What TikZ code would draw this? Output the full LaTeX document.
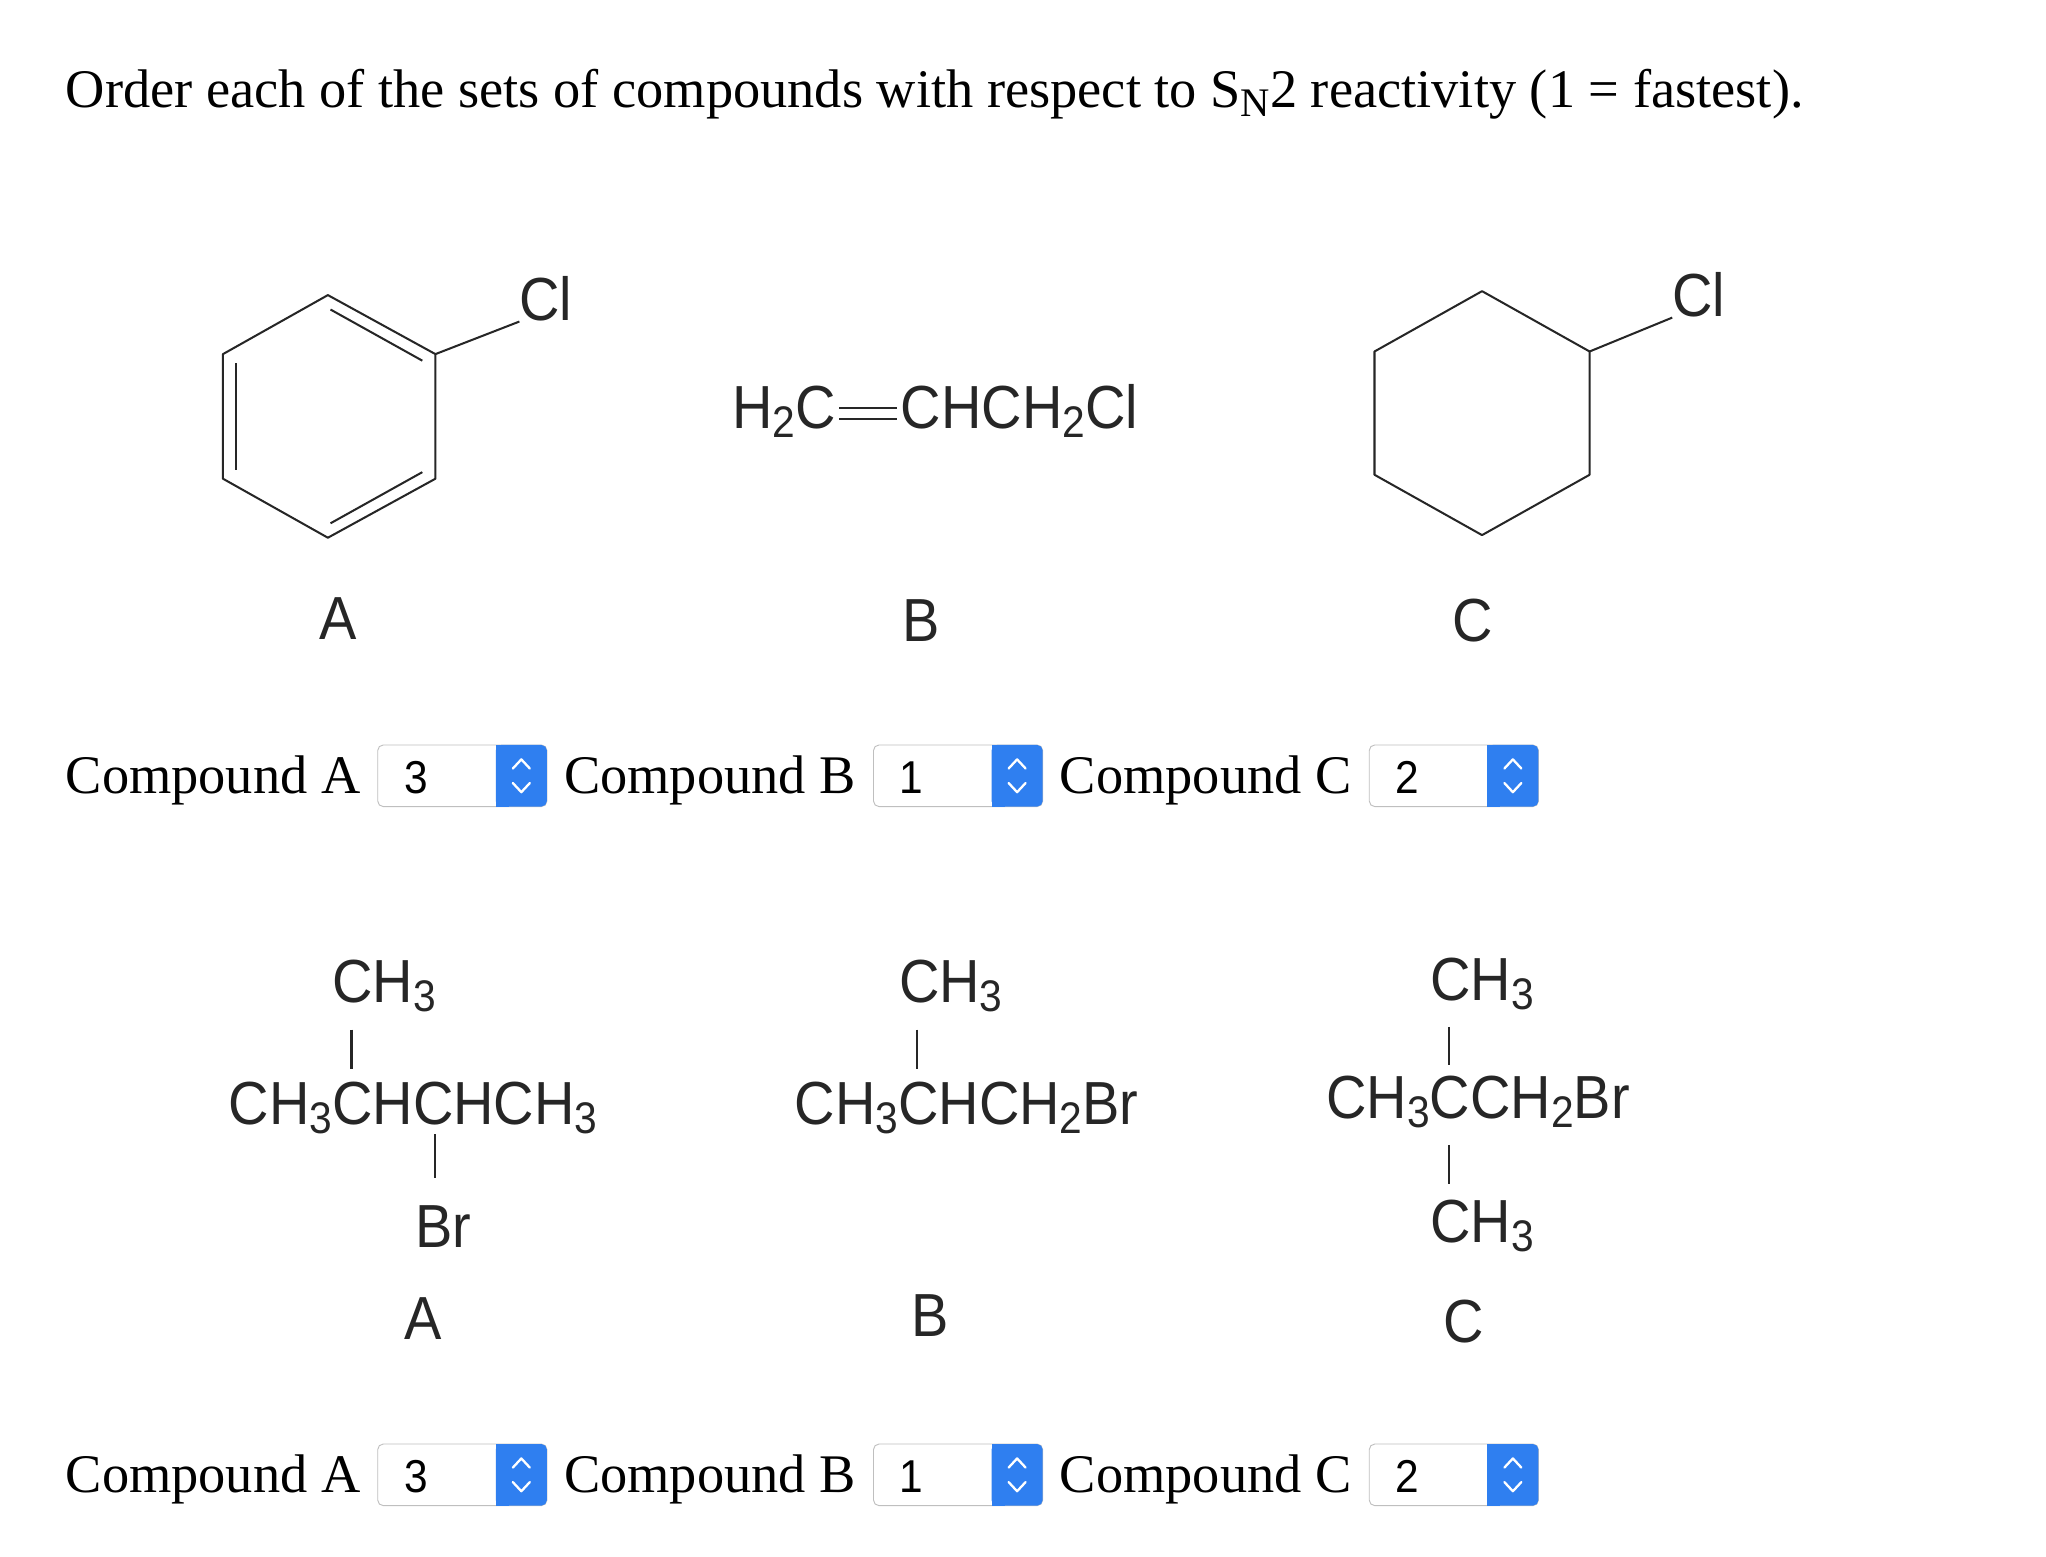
\documentclass[tikz,border=0pt]{standalone}
\usepackage{fontspec}
\setmainfont{Liberation Serif}
\newfontfamily\chem[FakeStretch=0.92]{Liberation Sans}
\definecolor{spin}{HTML}{2F7FF0}
\newcommand{\sbs}[1]{\raisebox{-0.28ex}{\fontsize{48}{50}\selectfont #1}}
\newcommand{\dbnd}{\kern0.06em\raisebox{0.25ex}{\rule{0.95em}{2.2pt}}\kern-0.95em\raisebox{0.58ex}{\rule{0.95em}{2.2pt}}\kern0.06em}
\begin{document}
\begin{tikzpicture}[x=0.05cm,y=-0.05cm,
  bond/.style={line width=2.2pt,black!85},
  ch/.style={font=\chem\fontsize{66}{70}\selectfont,inner sep=0pt,text=black!85},
  lab/.style={font=\chem\fontsize{66}{70}\selectfont,inner sep=0pt,text=black!85},
  tm/.style={font=\fontsize{59}{70}\selectfont,inner sep=0pt,anchor=base west},
  boxnum/.style={font=\chem\fontsize{50}{50}\selectfont,inner sep=0pt,anchor=base west}]
\useasboundingbox (0,0) rectangle (1560,1187);
\node[tm] (title) at (50,82) {Order each of the sets of compounds with respect to S\raisebox{-0.35ex}{\fontsize{44}{50}\selectfont N}2 reactivity (1 = fastest).};
% benzene
\coordinate (a1) at (250,225); \coordinate (a2) at (332,270); \coordinate (a3) at (332,365);
\coordinate (a4) at (250,410); \coordinate (a5) at (170,365); \coordinate (a6) at (170,270);
\draw[bond,line join=round] (a1)--(a2)--(a3)--(a4)--(a5)--(a6)--cycle;
\draw[bond] (180,277)--(180,358);
\draw[bond] (252,236)--(322,275);
\draw[bond] (252,399)--(322,360);
\node[ch,anchor=west] (clA) at (396,228) {Cl};
\draw[bond] (a2)--(clA.south west);
\node[ch] (mB) at (713,313) {H\sbs{2}C\dbnd CHCH\sbs{2}Cl};
% cyclohexane
\coordinate (c1) at (1130,222); \coordinate (c2) at (1212,268); \coordinate (c3) at (1212,362);
\coordinate (c4) at (1130,408); \coordinate (c5) at (1048,362); \coordinate (c6) at (1048,268);
\draw[bond,line join=round] (c1)--(c2)--(c3)--(c4)--(c5)--(c6)--cycle;
\node[ch,anchor=west] (clC) at (1275,225) {Cl};
\draw[bond] (c2)--(clC.south west);
\node[lab] (lA1) at (258,472) {A};
\node[lab] (lB1) at (702,473) {B};
\node[lab] (lC1) at (1123,473) {C};
% spinner rows
\foreach \r/\yy in {1/0,2/533}{
  \begin{scope}[yshift=-\yy*0.05cm]
  \node[tm] (ca\r) at (50,605) {Compound A};
  \node[tm] (cb\r) at (430,605) {Compound B};
  \node[tm] (cc\r) at (808,605) {Compound C};
  \foreach \bx/\n/\k in {288/3/a,666/1/b,1044/2/c}{
    \draw[black!25,line width=1pt,rounded corners=6pt,fill=white] (\bx,568) rectangle (\bx+129,615);
    \fill[spin,rounded corners=6pt] (\bx+90,568) rectangle (\bx+129,615);
    \fill[spin] (\bx+90,568) rectangle (\bx+100,615);
    \draw[white,line width=2.5pt,line cap=round,line join=round] (\bx+103,586)--(\bx+109.5,579)--(\bx+116,586);
    \draw[white,line width=2.5pt,line cap=round,line join=round] (\bx+103,597)--(\bx+109.5,604)--(\bx+116,597);
    \node[boxnum] (n\k\r) at (\bx+20,605) {\n};
  }
  \end{scope}
}
% row 2 molecules
\node[ch] (a2top) at (293,752) {CH\sbs{3}};
\node[ch] (a2mid) at (315,845) {CH\sbs{3}CHCHCH\sbs{3}};
\node[ch] (a2br) at (338,935) {Br};
\draw[bond] (268,785)--(268,815);
\draw[bond] (332,865)--(332,898);
\node[lab] (lA2) at (323,1005) {A};
\node[ch] (b2top) at (725,752) {CH\sbs{3}};
\node[ch] (b2mid) at (737,845) {CH\sbs{3}CHCH\sbs{2}Br};
\draw[bond] (699,785)--(699,815);
\node[lab] (lB2) at (709,1003) {B};
\node[ch] (c2top) at (1130,750) {CH\sbs{3}};
\node[ch] (c2mid) at (1127,840) {CH\sbs{3}CCH\sbs{2}Br};
\node[ch] (c2bot) at (1130,935) {CH\sbs{3}};
\draw[bond] (1105,783)--(1105,812);
\draw[bond] (1105,873)--(1105,903);
\node[lab] (lC2) at (1116,1008) {C};
\end{tikzpicture}
\end{document}
